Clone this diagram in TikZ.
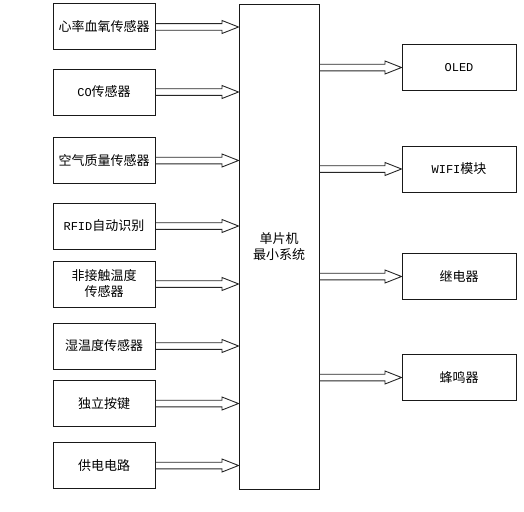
\documentclass[tikz,border=0pt]{standalone}
\usepackage{fontspec}
\setmainfont{Noto Sans CJK SC}
\newfontfamily\monofnt{Liberation Mono}
\usetikzlibrary{calc}
\tikzset{
  box/.style={draw=black!90, line width=1pt, minimum width=102pt, minimum height=46pt,
    inner sep=1pt, align=center, font=\fontsize{13}{16}\selectfont},
  rbox/.style={box, minimum width=114pt},
  cpubox/.style={box, minimum width=80pt, minimum height=484pt},
  barrow/.style={draw=black!85, line width=0.9pt, line join=miter},
}
\newcommand\blockarrow[2]{%
  \draw[barrow] ($(#1)+(0,-3.3)$) -- ($(#2)+(-16.5,-3.3)$) -- ($(#2)+(-16.5,-6.5)$)
    -- (#2) -- ($(#2)+(-16.5,6.5)$) -- ($(#2)+(-16.5,3.3)$) -- ($(#1)+(0,3.3)$);
}
\begin{document}
\begin{tikzpicture}[x=1pt,y=-1pt]
\useasboundingbox (0,0) rectangle (524,511);
% central unit
\node[cpubox] (cpu) at (279,247) {单片机\\最小系统};
% left inputs
\node[box] (s1) at (104,27) {心率血氧传感器};
\node[box] (s2) at (104,92) {{\monofnt\fontsize{12}{16}\selectfont CO}传感器};
\node[box] (s3) at (104,160.5) {空气质量传感器};
\node[box] (s4) at (104,226) {{\monofnt\fontsize{12}{16}\selectfont RFID}自动识别};
\node[box] (s5) at (104,284) {非接触温度\\传感器};
\node[box] (s6) at (104,346) {湿温度传感器};
\node[box] (s7) at (104,403.5) {独立按键};
\node[box] (s8) at (104,465.5) {供电电路};
% right outputs
\node[rbox] (o1) at (459,67.5) {{\monofnt\fontsize{12}{16}\selectfont OLED}};
\node[rbox] (o2) at (459,169) {{\monofnt\fontsize{12}{16}\selectfont WIFI}模块};
\node[rbox] (o3) at (459,276.5) {继电器};
\node[rbox] (o4) at (459,377.5) {蜂鸣器};
% arrow tips on the central unit
\foreach \i in {1,...,8}{
  \coordinate (t\i) at (cpu.west |- s\i.east);
  \blockarrow{s\i.east}{t\i}
}
\foreach \i in {1,...,4}{
  \coordinate (u\i) at (cpu.east |- o\i.west);
  \blockarrow{u\i}{o\i.west}
}
\end{tikzpicture}
\end{document}
